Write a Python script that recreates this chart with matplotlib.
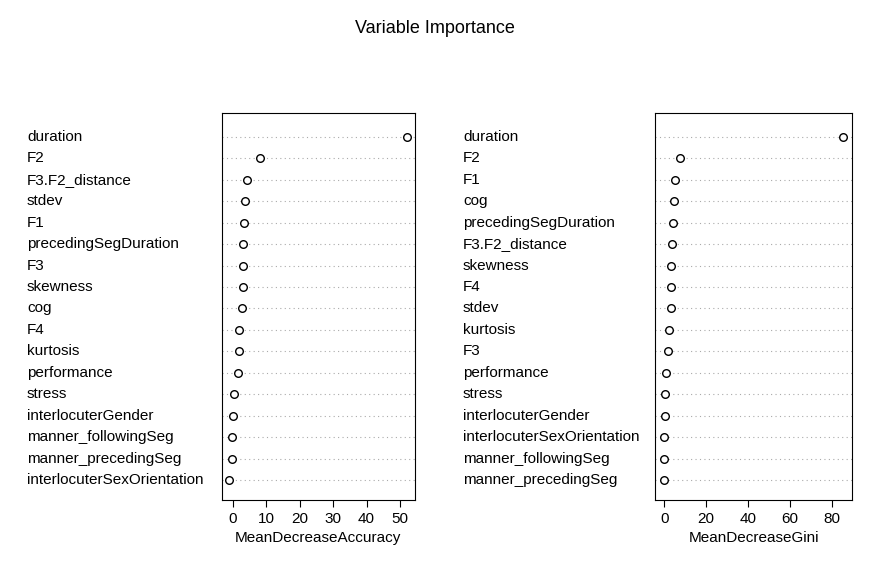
import matplotlib.pyplot as plt
import matplotlib.transforms as mtransforms

plt.rcParams['font.family'] = ['Liberation Sans', 'DejaVu Sans']

# Variables et importances (ordre du haut vers le bas)
acc_vars = ['duration', 'F2', 'F3.F2_distance', 'stdev', 'F1', 'precedingSegDuration', 'F3',
            'skewness', 'cog', 'F4', 'kurtosis', 'performance', 'stress', 'interlocuterGender',
            'manner_followingSeg', 'manner_precedingSeg', 'interlocuterSexOrientation']
acc_vals = [52.0, 8.1, 4.2, 3.6, 3.3, 3.0, 2.9, 2.9, 2.7, 1.8, 1.7, 1.5, 0.3, 0.1, -0.2, -0.3, -1.2]

gini_vars = ['duration', 'F2', 'F1', 'cog', 'precedingSegDuration', 'F3.F2_distance', 'skewness',
             'F4', 'stdev', 'kurtosis', 'F3', 'performance', 'stress', 'interlocuterGender',
             'interlocuterSexOrientation', 'manner_followingSeg', 'manner_precedingSeg']
gini_vals = [85.2, 7.6, 5.2, 4.8, 4.3, 3.8, 3.5, 3.3, 3.3, 2.4, 1.9, 1.0, 0.6, 0.3, 0.1, 0.0, -0.3]

fig = plt.figure(figsize=(8.7, 5.77), dpi=100)
fig.text(0.5, 0.95, 'Variable Importance', ha='center', va='center', fontsize=13)

panneaux = [
    (acc_vars, acc_vals, [0.255, 0.1334, 0.222, 0.671], (-3.3, 54.5), [0, 10, 20, 30, 40, 50],
     'MeanDecreaseAccuracy', 27 / 870),
    (gini_vars, gini_vals, [0.753, 0.1334, 0.2264, 0.671], (-4.3, 89.5), [0, 20, 40, 60, 80],
     'MeanDecreaseGini', 463 / 870),
]

for noms, valeurs, rect, xlim, ticks, xlabel, xtxt in panneaux:
    ax = fig.add_axes(rect)
    n = len(noms)
    pos = list(range(n, 0, -1))
    for p in pos:
        ax.axhline(p, color='#aaaaaa', linestyle=(0, (1, 3)), linewidth=0.8, zorder=1)
    ax.scatter(valeurs, pos, s=30, facecolors='white', edgecolors='black', linewidths=1, zorder=3)
    ax.set_xlim(*xlim)
    ax.set_ylim(0.07, 18.12)
    ax.set_yticks([])
    ax.set_xticks(ticks)
    ax.tick_params(axis='x', labelsize=11, length=5)
    ax.set_xlabel(xlabel, fontsize=11)
    trans = mtransforms.blended_transform_factory(fig.transFigure, ax.transData)
    for nom, p in zip(noms, pos):
        ax.text(xtxt, p, nom, transform=trans, ha='left', va='center', fontsize=11)
    for s in ['top', 'right', 'left']:
        ax.spines[s].set_visible(True)

fig.savefig('out.png', dpi=100)
